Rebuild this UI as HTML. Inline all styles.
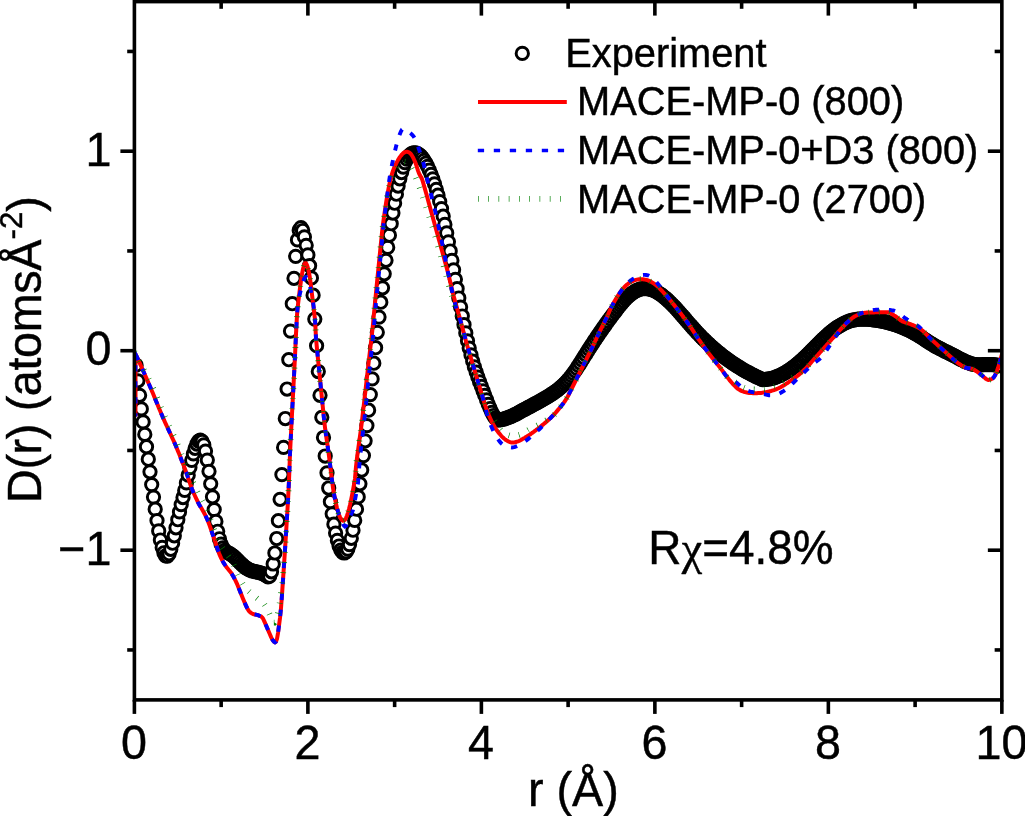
<!DOCTYPE html>
<html lang="en"><head><meta charset="utf-8"><title>D(r) comparison</title>
<style>
html,body{margin:0;padding:0;background:#fff;}
body{width:1025px;height:816px;overflow:hidden;}
svg{display:block;}
text{font-family:"Liberation Sans", sans-serif;fill:#000;stroke:#000;stroke-width:0.45px;}
.t{font-size:46.7px;}
.l{font-size:39.8px;}
.a{font-size:45.9px;}
</style></head><body>
<svg width="1025" height="816" viewBox="0 0 1025 816">
<rect x="0" y="0" width="1025" height="816" fill="#fff"/>
<defs><clipPath id="pc"><rect x="134.40" y="1.60" width="867.45" height="698.30"/></clipPath></defs>
<g clip-path="url(#pc)">
<g fill="#fff" stroke="#000" stroke-width="2.95">

<circle cx="136.1" cy="365.2" r="6.15"/>
<circle cx="137.9" cy="380.8" r="6.15"/>
<circle cx="139.6" cy="395.3" r="6.15"/>
<circle cx="141.3" cy="408.9" r="6.15"/>
<circle cx="143.1" cy="421.9" r="6.15"/>
<circle cx="144.8" cy="434.4" r="6.15"/>
<circle cx="146.5" cy="446.7" r="6.15"/>
<circle cx="148.3" cy="459.2" r="6.15"/>
<circle cx="150.0" cy="471.8" r="6.15"/>
<circle cx="151.7" cy="484.6" r="6.15"/>
<circle cx="153.5" cy="497.1" r="6.15"/>
<circle cx="155.2" cy="509.2" r="6.15"/>
<circle cx="157.0" cy="520.6" r="6.15"/>
<circle cx="158.7" cy="530.9" r="6.15"/>
<circle cx="160.4" cy="540.0" r="6.15"/>
<circle cx="162.2" cy="547.4" r="6.15"/>
<circle cx="163.9" cy="552.8" r="6.15"/>
<circle cx="165.6" cy="555.8" r="6.15"/>
<circle cx="167.4" cy="556.1" r="6.15"/>
<circle cx="169.1" cy="553.8" r="6.15"/>
<circle cx="170.8" cy="549.3" r="6.15"/>
<circle cx="172.6" cy="543.2" r="6.15"/>
<circle cx="174.3" cy="535.8" r="6.15"/>
<circle cx="176.0" cy="527.8" r="6.15"/>
<circle cx="177.8" cy="519.7" r="6.15"/>
<circle cx="179.5" cy="511.9" r="6.15"/>
<circle cx="181.2" cy="504.6" r="6.15"/>
<circle cx="183.0" cy="497.5" r="6.15"/>
<circle cx="184.7" cy="490.4" r="6.15"/>
<circle cx="186.4" cy="482.9" r="6.15"/>
<circle cx="188.2" cy="475.2" r="6.15"/>
<circle cx="189.9" cy="467.6" r="6.15"/>
<circle cx="191.7" cy="460.4" r="6.15"/>
<circle cx="193.4" cy="453.9" r="6.15"/>
<circle cx="195.1" cy="448.3" r="6.15"/>
<circle cx="196.9" cy="444.0" r="6.15"/>
<circle cx="198.6" cy="441.2" r="6.15"/>
<circle cx="200.3" cy="440.2" r="6.15"/>
<circle cx="202.1" cy="441.4" r="6.15"/>
<circle cx="203.8" cy="444.9" r="6.15"/>
<circle cx="205.5" cy="451.1" r="6.15"/>
<circle cx="207.3" cy="460.1" r="6.15"/>
<circle cx="209.0" cy="471.3" r="6.15"/>
<circle cx="210.7" cy="483.8" r="6.15"/>
<circle cx="212.5" cy="496.8" r="6.15"/>
<circle cx="214.2" cy="509.6" r="6.15"/>
<circle cx="215.9" cy="521.4" r="6.15"/>
<circle cx="217.7" cy="531.3" r="6.15"/>
<circle cx="219.4" cy="538.8" r="6.15"/>
<circle cx="221.1" cy="544.2" r="6.15"/>
<circle cx="222.9" cy="547.9" r="6.15"/>
<circle cx="224.6" cy="550.3" r="6.15"/>
<circle cx="226.3" cy="551.8" r="6.15"/>
<circle cx="228.1" cy="552.8" r="6.15"/>
<circle cx="229.8" cy="553.7" r="6.15"/>
<circle cx="231.6" cy="554.8" r="6.15"/>
<circle cx="233.3" cy="556.2" r="6.15"/>
<circle cx="235.0" cy="557.7" r="6.15"/>
<circle cx="236.8" cy="559.4" r="6.15"/>
<circle cx="238.5" cy="561.1" r="6.15"/>
<circle cx="240.2" cy="562.8" r="6.15"/>
<circle cx="242.0" cy="564.5" r="6.15"/>
<circle cx="243.7" cy="566.1" r="6.15"/>
<circle cx="245.4" cy="567.5" r="6.15"/>
<circle cx="247.2" cy="568.7" r="6.15"/>
<circle cx="248.9" cy="569.7" r="6.15"/>
<circle cx="250.6" cy="570.4" r="6.15"/>
<circle cx="252.4" cy="571.0" r="6.15"/>
<circle cx="254.1" cy="571.4" r="6.15"/>
<circle cx="255.8" cy="571.8" r="6.15"/>
<circle cx="257.6" cy="572.1" r="6.15"/>
<circle cx="259.3" cy="572.5" r="6.15"/>
<circle cx="261.0" cy="573.0" r="6.15"/>
<circle cx="262.8" cy="573.6" r="6.15"/>
<circle cx="264.5" cy="574.5" r="6.15"/>
<circle cx="266.3" cy="575.5" r="6.15"/>
<circle cx="268.0" cy="576.9" r="6.15"/>
<circle cx="269.7" cy="576.2" r="6.15"/>
<circle cx="271.5" cy="571.8" r="6.15"/>
<circle cx="273.2" cy="564.0" r="6.15"/>
<circle cx="274.9" cy="553.0" r="6.15"/>
<circle cx="276.7" cy="538.5" r="6.15"/>
<circle cx="278.4" cy="520.7" r="6.15"/>
<circle cx="280.1" cy="499.3" r="6.15"/>
<circle cx="281.9" cy="474.6" r="6.15"/>
<circle cx="283.6" cy="447.4" r="6.15"/>
<circle cx="285.3" cy="418.5" r="6.15"/>
<circle cx="287.1" cy="389.0" r="6.15"/>
<circle cx="288.8" cy="359.7" r="6.15"/>
<circle cx="290.5" cy="331.1" r="6.15"/>
<circle cx="292.3" cy="303.7" r="6.15"/>
<circle cx="294.0" cy="278.3" r="6.15"/>
<circle cx="295.7" cy="256.4" r="6.15"/>
<circle cx="297.5" cy="239.9" r="6.15"/>
<circle cx="299.2" cy="230.2" r="6.15"/>
<circle cx="301.0" cy="227.6" r="6.15"/>
<circle cx="302.7" cy="230.5" r="6.15"/>
<circle cx="304.4" cy="236.9" r="6.15"/>
<circle cx="306.2" cy="245.3" r="6.15"/>
<circle cx="307.9" cy="254.9" r="6.15"/>
<circle cx="309.6" cy="265.7" r="6.15"/>
<circle cx="311.4" cy="277.9" r="6.15"/>
<circle cx="313.1" cy="295.2" r="6.15"/>
<circle cx="314.8" cy="319.1" r="6.15"/>
<circle cx="316.6" cy="345.7" r="6.15"/>
<circle cx="318.3" cy="371.5" r="6.15"/>
<circle cx="320.0" cy="395.3" r="6.15"/>
<circle cx="321.8" cy="417.3" r="6.15"/>
<circle cx="323.5" cy="437.5" r="6.15"/>
<circle cx="325.2" cy="456.0" r="6.15"/>
<circle cx="327.0" cy="472.8" r="6.15"/>
<circle cx="328.7" cy="488.0" r="6.15"/>
<circle cx="330.4" cy="501.7" r="6.15"/>
<circle cx="332.2" cy="513.8" r="6.15"/>
<circle cx="333.9" cy="524.2" r="6.15"/>
<circle cx="335.6" cy="533.1" r="6.15"/>
<circle cx="337.4" cy="540.4" r="6.15"/>
<circle cx="339.1" cy="546.0" r="6.15"/>
<circle cx="340.9" cy="550.0" r="6.15"/>
<circle cx="342.6" cy="552.3" r="6.15"/>
<circle cx="344.3" cy="553.0" r="6.15"/>
<circle cx="346.1" cy="551.9" r="6.15"/>
<circle cx="347.8" cy="549.1" r="6.15"/>
<circle cx="349.5" cy="544.6" r="6.15"/>
<circle cx="351.3" cy="538.3" r="6.15"/>
<circle cx="353.0" cy="530.2" r="6.15"/>
<circle cx="354.7" cy="520.4" r="6.15"/>
<circle cx="356.5" cy="509.2" r="6.15"/>
<circle cx="358.2" cy="496.9" r="6.15"/>
<circle cx="359.9" cy="483.8" r="6.15"/>
<circle cx="361.7" cy="470.0" r="6.15"/>
<circle cx="363.4" cy="455.6" r="6.15"/>
<circle cx="365.1" cy="440.8" r="6.15"/>
<circle cx="366.9" cy="425.6" r="6.15"/>
<circle cx="368.6" cy="410.2" r="6.15"/>
<circle cx="370.3" cy="394.6" r="6.15"/>
<circle cx="372.1" cy="378.9" r="6.15"/>
<circle cx="373.8" cy="363.2" r="6.15"/>
<circle cx="375.6" cy="347.7" r="6.15"/>
<circle cx="377.3" cy="332.3" r="6.15"/>
<circle cx="379.0" cy="317.1" r="6.15"/>
<circle cx="380.8" cy="302.2" r="6.15"/>
<circle cx="382.5" cy="287.8" r="6.15"/>
<circle cx="384.2" cy="273.8" r="6.15"/>
<circle cx="386.0" cy="260.3" r="6.15"/>
<circle cx="387.7" cy="247.4" r="6.15"/>
<circle cx="389.4" cy="235.2" r="6.15"/>
<circle cx="391.2" cy="223.7" r="6.15"/>
<circle cx="392.9" cy="213.0" r="6.15"/>
<circle cx="394.6" cy="203.2" r="6.15"/>
<circle cx="396.4" cy="194.2" r="6.15"/>
<circle cx="398.1" cy="186.0" r="6.15"/>
<circle cx="399.8" cy="178.8" r="6.15"/>
<circle cx="401.6" cy="172.5" r="6.15"/>
<circle cx="403.3" cy="167.1" r="6.15"/>
<circle cx="405.0" cy="162.6" r="6.15"/>
<circle cx="406.8" cy="159.1" r="6.15"/>
<circle cx="408.5" cy="156.5" r="6.15"/>
<circle cx="410.2" cy="154.6" r="6.15"/>
<circle cx="412.0" cy="153.4" r="6.15"/>
<circle cx="413.7" cy="152.9" r="6.15"/>
<circle cx="415.5" cy="152.9" r="6.15"/>
<circle cx="417.2" cy="153.4" r="6.15"/>
<circle cx="418.9" cy="154.5" r="6.15"/>
<circle cx="420.7" cy="155.9" r="6.15"/>
<circle cx="422.4" cy="157.9" r="6.15"/>
<circle cx="424.1" cy="160.3" r="6.15"/>
<circle cx="425.9" cy="163.1" r="6.15"/>
<circle cx="427.6" cy="166.4" r="6.15"/>
<circle cx="429.3" cy="170.1" r="6.15"/>
<circle cx="431.1" cy="174.3" r="6.15"/>
<circle cx="432.8" cy="178.9" r="6.15"/>
<circle cx="434.5" cy="183.8" r="6.15"/>
<circle cx="436.3" cy="189.3" r="6.15"/>
<circle cx="438.0" cy="195.2" r="6.15"/>
<circle cx="439.7" cy="201.6" r="6.15"/>
<circle cx="441.5" cy="208.6" r="6.15"/>
<circle cx="443.2" cy="216.2" r="6.15"/>
<circle cx="444.9" cy="224.4" r="6.15"/>
<circle cx="446.7" cy="232.9" r="6.15"/>
<circle cx="448.4" cy="241.8" r="6.15"/>
<circle cx="450.2" cy="251.0" r="6.15"/>
<circle cx="451.9" cy="260.4" r="6.15"/>
<circle cx="453.6" cy="269.8" r="6.15"/>
<circle cx="455.4" cy="279.3" r="6.15"/>
<circle cx="457.1" cy="288.7" r="6.15"/>
<circle cx="458.8" cy="298.0" r="6.15"/>
<circle cx="460.6" cy="307.1" r="6.15"/>
<circle cx="462.3" cy="316.0" r="6.15"/>
<circle cx="464.0" cy="324.7" r="6.15"/>
<circle cx="465.8" cy="332.9" r="6.15"/>
<circle cx="467.5" cy="340.8" r="6.15"/>
<circle cx="469.2" cy="348.1" r="6.15"/>
<circle cx="471.0" cy="354.9" r="6.15"/>
<circle cx="472.7" cy="361.2" r="6.15"/>
<circle cx="474.4" cy="366.9" r="6.15"/>
<circle cx="476.2" cy="372.2" r="6.15"/>
<circle cx="477.9" cy="377.2" r="6.15"/>
<circle cx="479.6" cy="381.9" r="6.15"/>
<circle cx="481.4" cy="386.4" r="6.15"/>
<circle cx="483.1" cy="390.9" r="6.15"/>
<circle cx="484.8" cy="395.4" r="6.15"/>
<circle cx="486.6" cy="399.9" r="6.15"/>
<circle cx="488.3" cy="404.3" r="6.15"/>
<circle cx="490.1" cy="408.5" r="6.15"/>
<circle cx="491.8" cy="412.3" r="6.15"/>
<circle cx="493.5" cy="415.5" r="6.15"/>
<circle cx="495.3" cy="418.0" r="6.15"/>
<circle cx="497.0" cy="419.5" r="6.15"/>
<circle cx="498.7" cy="420.0" r="6.15"/>
<circle cx="500.5" cy="419.7" r="6.15"/>
<circle cx="502.2" cy="419.4" r="6.15"/>
<circle cx="503.9" cy="419.0" r="6.15"/>
<circle cx="505.7" cy="418.4" r="6.15"/>
<circle cx="507.4" cy="417.9" r="6.15"/>
<circle cx="509.1" cy="417.2" r="6.15"/>
<circle cx="510.9" cy="416.5" r="6.15"/>
<circle cx="512.6" cy="415.7" r="6.15"/>
<circle cx="514.3" cy="414.8" r="6.15"/>
<circle cx="516.1" cy="414.0" r="6.15"/>
<circle cx="517.8" cy="413.1" r="6.15"/>
<circle cx="519.5" cy="412.1" r="6.15"/>
<circle cx="521.3" cy="411.2" r="6.15"/>
<circle cx="523.0" cy="410.2" r="6.15"/>
<circle cx="524.8" cy="409.3" r="6.15"/>
<circle cx="526.5" cy="408.4" r="6.15"/>
<circle cx="528.2" cy="407.4" r="6.15"/>
<circle cx="530.0" cy="406.5" r="6.15"/>
<circle cx="531.7" cy="405.6" r="6.15"/>
<circle cx="533.4" cy="404.7" r="6.15"/>
<circle cx="535.2" cy="403.7" r="6.15"/>
<circle cx="536.9" cy="402.8" r="6.15"/>
<circle cx="538.6" cy="401.8" r="6.15"/>
<circle cx="540.4" cy="400.9" r="6.15"/>
<circle cx="542.1" cy="399.9" r="6.15"/>
<circle cx="543.8" cy="398.9" r="6.15"/>
<circle cx="545.6" cy="397.9" r="6.15"/>
<circle cx="547.3" cy="396.8" r="6.15"/>
<circle cx="549.0" cy="395.8" r="6.15"/>
<circle cx="550.8" cy="394.7" r="6.15"/>
<circle cx="552.5" cy="393.5" r="6.15"/>
<circle cx="554.2" cy="392.3" r="6.15"/>
<circle cx="556.0" cy="391.1" r="6.15"/>
<circle cx="557.7" cy="389.8" r="6.15"/>
<circle cx="559.5" cy="388.4" r="6.15"/>
<circle cx="561.2" cy="386.9" r="6.15"/>
<circle cx="562.9" cy="385.4" r="6.15"/>
<circle cx="564.7" cy="383.7" r="6.15"/>
<circle cx="566.4" cy="381.9" r="6.15"/>
<circle cx="568.1" cy="380.0" r="6.15"/>
<circle cx="569.9" cy="377.9" r="6.15"/>
<circle cx="571.6" cy="375.7" r="6.15"/>
<circle cx="573.3" cy="373.4" r="6.15"/>
<circle cx="575.1" cy="370.9" r="6.15"/>
<circle cx="576.8" cy="368.4" r="6.15"/>
<circle cx="578.5" cy="365.7" r="6.15"/>
<circle cx="580.3" cy="363.0" r="6.15"/>
<circle cx="582.0" cy="360.2" r="6.15"/>
<circle cx="583.7" cy="357.5" r="6.15"/>
<circle cx="585.5" cy="354.7" r="6.15"/>
<circle cx="587.2" cy="351.9" r="6.15"/>
<circle cx="588.9" cy="349.2" r="6.15"/>
<circle cx="590.7" cy="346.5" r="6.15"/>
<circle cx="592.4" cy="343.8" r="6.15"/>
<circle cx="594.1" cy="341.2" r="6.15"/>
<circle cx="595.9" cy="338.6" r="6.15"/>
<circle cx="597.6" cy="336.0" r="6.15"/>
<circle cx="599.4" cy="333.4" r="6.15"/>
<circle cx="601.1" cy="330.9" r="6.15"/>
<circle cx="602.8" cy="328.4" r="6.15"/>
<circle cx="604.6" cy="326.0" r="6.15"/>
<circle cx="606.3" cy="323.5" r="6.15"/>
<circle cx="608.0" cy="321.1" r="6.15"/>
<circle cx="609.8" cy="318.7" r="6.15"/>
<circle cx="611.5" cy="316.4" r="6.15"/>
<circle cx="613.2" cy="314.1" r="6.15"/>
<circle cx="615.0" cy="311.8" r="6.15"/>
<circle cx="616.7" cy="309.5" r="6.15"/>
<circle cx="618.4" cy="307.3" r="6.15"/>
<circle cx="620.2" cy="305.1" r="6.15"/>
<circle cx="621.9" cy="303.1" r="6.15"/>
<circle cx="623.6" cy="301.1" r="6.15"/>
<circle cx="625.4" cy="299.2" r="6.15"/>
<circle cx="627.1" cy="297.4" r="6.15"/>
<circle cx="628.8" cy="295.8" r="6.15"/>
<circle cx="630.6" cy="294.3" r="6.15"/>
<circle cx="632.3" cy="293.0" r="6.15"/>
<circle cx="634.1" cy="291.8" r="6.15"/>
<circle cx="635.8" cy="290.8" r="6.15"/>
<circle cx="637.5" cy="290.0" r="6.15"/>
<circle cx="639.3" cy="289.4" r="6.15"/>
<circle cx="641.0" cy="288.9" r="6.15"/>
<circle cx="642.7" cy="288.6" r="6.15"/>
<circle cx="644.5" cy="288.5" r="6.15"/>
<circle cx="646.2" cy="288.5" r="6.15"/>
<circle cx="647.9" cy="288.7" r="6.15"/>
<circle cx="649.7" cy="289.1" r="6.15"/>
<circle cx="651.4" cy="289.6" r="6.15"/>
<circle cx="653.1" cy="290.2" r="6.15"/>
<circle cx="654.9" cy="290.9" r="6.15"/>
<circle cx="656.6" cy="291.8" r="6.15"/>
<circle cx="658.3" cy="292.8" r="6.15"/>
<circle cx="660.1" cy="294.0" r="6.15"/>
<circle cx="661.8" cy="295.2" r="6.15"/>
<circle cx="663.5" cy="296.6" r="6.15"/>
<circle cx="665.3" cy="298.0" r="6.15"/>
<circle cx="667.0" cy="299.5" r="6.15"/>
<circle cx="668.7" cy="301.1" r="6.15"/>
<circle cx="670.5" cy="302.8" r="6.15"/>
<circle cx="672.2" cy="304.6" r="6.15"/>
<circle cx="674.0" cy="306.4" r="6.15"/>
<circle cx="675.7" cy="308.2" r="6.15"/>
<circle cx="677.4" cy="310.2" r="6.15"/>
<circle cx="679.2" cy="312.1" r="6.15"/>
<circle cx="680.9" cy="314.1" r="6.15"/>
<circle cx="682.6" cy="316.0" r="6.15"/>
<circle cx="684.4" cy="318.0" r="6.15"/>
<circle cx="686.1" cy="320.1" r="6.15"/>
<circle cx="687.8" cy="322.1" r="6.15"/>
<circle cx="689.6" cy="324.1" r="6.15"/>
<circle cx="691.3" cy="326.0" r="6.15"/>
<circle cx="693.0" cy="328.0" r="6.15"/>
<circle cx="694.8" cy="329.9" r="6.15"/>
<circle cx="696.5" cy="331.8" r="6.15"/>
<circle cx="698.2" cy="333.7" r="6.15"/>
<circle cx="700.0" cy="335.5" r="6.15"/>
<circle cx="701.7" cy="337.3" r="6.15"/>
<circle cx="703.4" cy="339.0" r="6.15"/>
<circle cx="705.2" cy="340.7" r="6.15"/>
<circle cx="706.9" cy="342.4" r="6.15"/>
<circle cx="708.7" cy="344.0" r="6.15"/>
<circle cx="710.4" cy="345.6" r="6.15"/>
<circle cx="712.1" cy="347.1" r="6.15"/>
<circle cx="713.9" cy="348.7" r="6.15"/>
<circle cx="715.6" cy="350.1" r="6.15"/>
<circle cx="717.3" cy="351.6" r="6.15"/>
<circle cx="719.1" cy="353.0" r="6.15"/>
<circle cx="720.8" cy="354.4" r="6.15"/>
<circle cx="722.5" cy="355.8" r="6.15"/>
<circle cx="724.3" cy="357.1" r="6.15"/>
<circle cx="726.0" cy="358.4" r="6.15"/>
<circle cx="727.7" cy="359.7" r="6.15"/>
<circle cx="729.5" cy="360.9" r="6.15"/>
<circle cx="731.2" cy="362.1" r="6.15"/>
<circle cx="732.9" cy="363.3" r="6.15"/>
<circle cx="734.7" cy="364.4" r="6.15"/>
<circle cx="736.4" cy="365.6" r="6.15"/>
<circle cx="738.1" cy="366.7" r="6.15"/>
<circle cx="739.9" cy="367.7" r="6.15"/>
<circle cx="741.6" cy="368.8" r="6.15"/>
<circle cx="743.3" cy="369.8" r="6.15"/>
<circle cx="745.1" cy="370.8" r="6.15"/>
<circle cx="746.8" cy="371.8" r="6.15"/>
<circle cx="748.6" cy="372.7" r="6.15"/>
<circle cx="750.3" cy="373.6" r="6.15"/>
<circle cx="752.0" cy="374.5" r="6.15"/>
<circle cx="753.8" cy="375.4" r="6.15"/>
<circle cx="755.5" cy="376.3" r="6.15"/>
<circle cx="757.2" cy="377.1" r="6.15"/>
<circle cx="759.0" cy="377.9" r="6.15"/>
<circle cx="760.7" cy="378.7" r="6.15"/>
<circle cx="762.4" cy="379.5" r="6.15"/>
<circle cx="764.2" cy="379.5" r="6.15"/>
<circle cx="765.9" cy="379.4" r="6.15"/>
<circle cx="767.6" cy="379.2" r="6.15"/>
<circle cx="769.4" cy="378.9" r="6.15"/>
<circle cx="771.1" cy="378.5" r="6.15"/>
<circle cx="772.8" cy="378.1" r="6.15"/>
<circle cx="774.6" cy="377.5" r="6.15"/>
<circle cx="776.3" cy="376.9" r="6.15"/>
<circle cx="778.0" cy="376.2" r="6.15"/>
<circle cx="779.8" cy="375.5" r="6.15"/>
<circle cx="781.5" cy="374.7" r="6.15"/>
<circle cx="783.3" cy="373.7" r="6.15"/>
<circle cx="785.0" cy="372.8" r="6.15"/>
<circle cx="786.7" cy="371.7" r="6.15"/>
<circle cx="788.5" cy="370.6" r="6.15"/>
<circle cx="790.2" cy="369.5" r="6.15"/>
<circle cx="791.9" cy="368.2" r="6.15"/>
<circle cx="793.7" cy="366.9" r="6.15"/>
<circle cx="795.4" cy="365.6" r="6.15"/>
<circle cx="797.1" cy="364.1" r="6.15"/>
<circle cx="798.9" cy="362.7" r="6.15"/>
<circle cx="800.6" cy="361.1" r="6.15"/>
<circle cx="802.3" cy="359.6" r="6.15"/>
<circle cx="804.1" cy="357.9" r="6.15"/>
<circle cx="805.8" cy="356.3" r="6.15"/>
<circle cx="807.5" cy="354.6" r="6.15"/>
<circle cx="809.3" cy="352.8" r="6.15"/>
<circle cx="811.0" cy="351.1" r="6.15"/>
<circle cx="812.7" cy="349.4" r="6.15"/>
<circle cx="814.5" cy="347.6" r="6.15"/>
<circle cx="816.2" cy="345.8" r="6.15"/>
<circle cx="818.0" cy="344.1" r="6.15"/>
<circle cx="819.7" cy="342.4" r="6.15"/>
<circle cx="821.4" cy="340.7" r="6.15"/>
<circle cx="823.2" cy="339.0" r="6.15"/>
<circle cx="824.9" cy="337.4" r="6.15"/>
<circle cx="826.6" cy="335.8" r="6.15"/>
<circle cx="828.4" cy="334.2" r="6.15"/>
<circle cx="830.1" cy="332.7" r="6.15"/>
<circle cx="831.8" cy="331.3" r="6.15"/>
<circle cx="833.6" cy="329.9" r="6.15"/>
<circle cx="835.3" cy="328.7" r="6.15"/>
<circle cx="837.0" cy="327.4" r="6.15"/>
<circle cx="838.8" cy="326.3" r="6.15"/>
<circle cx="840.5" cy="325.3" r="6.15"/>
<circle cx="842.2" cy="324.3" r="6.15"/>
<circle cx="844.0" cy="323.4" r="6.15"/>
<circle cx="845.7" cy="322.6" r="6.15"/>
<circle cx="847.4" cy="321.9" r="6.15"/>
<circle cx="849.2" cy="321.2" r="6.15"/>
<circle cx="850.9" cy="320.6" r="6.15"/>
<circle cx="852.6" cy="320.2" r="6.15"/>
<circle cx="854.4" cy="319.8" r="6.15"/>
<circle cx="856.1" cy="319.5" r="6.15"/>
<circle cx="857.9" cy="319.2" r="6.15"/>
<circle cx="859.6" cy="319.1" r="6.15"/>
<circle cx="861.3" cy="319.0" r="6.15"/>
<circle cx="863.1" cy="319.0" r="6.15"/>
<circle cx="864.8" cy="319.0" r="6.15"/>
<circle cx="866.5" cy="319.1" r="6.15"/>
<circle cx="868.3" cy="319.2" r="6.15"/>
<circle cx="870.0" cy="319.4" r="6.15"/>
<circle cx="871.7" cy="319.5" r="6.15"/>
<circle cx="873.5" cy="319.8" r="6.15"/>
<circle cx="875.2" cy="320.0" r="6.15"/>
<circle cx="876.9" cy="320.2" r="6.15"/>
<circle cx="878.7" cy="320.5" r="6.15"/>
<circle cx="880.4" cy="320.8" r="6.15"/>
<circle cx="882.1" cy="321.2" r="6.15"/>
<circle cx="883.9" cy="321.5" r="6.15"/>
<circle cx="885.6" cy="321.9" r="6.15"/>
<circle cx="887.3" cy="322.3" r="6.15"/>
<circle cx="889.1" cy="322.8" r="6.15"/>
<circle cx="890.8" cy="323.3" r="6.15"/>
<circle cx="892.6" cy="323.8" r="6.15"/>
<circle cx="894.3" cy="324.3" r="6.15"/>
<circle cx="896.0" cy="324.9" r="6.15"/>
<circle cx="897.8" cy="325.5" r="6.15"/>
<circle cx="899.5" cy="326.1" r="6.15"/>
<circle cx="901.2" cy="326.8" r="6.15"/>
<circle cx="903.0" cy="327.5" r="6.15"/>
<circle cx="904.7" cy="328.3" r="6.15"/>
<circle cx="906.4" cy="329.0" r="6.15"/>
<circle cx="908.2" cy="329.8" r="6.15"/>
<circle cx="909.9" cy="330.7" r="6.15"/>
<circle cx="911.6" cy="331.6" r="6.15"/>
<circle cx="913.4" cy="332.5" r="6.15"/>
<circle cx="915.1" cy="333.5" r="6.15"/>
<circle cx="916.8" cy="334.4" r="6.15"/>
<circle cx="918.6" cy="335.5" r="6.15"/>
<circle cx="920.3" cy="336.6" r="6.15"/>
<circle cx="922.0" cy="337.7" r="6.15"/>
<circle cx="923.8" cy="338.8" r="6.15"/>
<circle cx="925.5" cy="340.0" r="6.15"/>
<circle cx="927.2" cy="341.1" r="6.15"/>
<circle cx="929.0" cy="342.3" r="6.15"/>
<circle cx="930.7" cy="343.4" r="6.15"/>
<circle cx="932.5" cy="344.4" r="6.15"/>
<circle cx="934.2" cy="345.5" r="6.15"/>
<circle cx="935.9" cy="346.5" r="6.15"/>
<circle cx="937.7" cy="347.4" r="6.15"/>
<circle cx="939.4" cy="348.3" r="6.15"/>
<circle cx="941.1" cy="349.2" r="6.15"/>
<circle cx="942.9" cy="350.1" r="6.15"/>
<circle cx="944.6" cy="351.0" r="6.15"/>
<circle cx="946.3" cy="351.8" r="6.15"/>
<circle cx="948.1" cy="352.7" r="6.15"/>
<circle cx="949.8" cy="353.6" r="6.15"/>
<circle cx="951.5" cy="354.4" r="6.15"/>
<circle cx="953.3" cy="355.3" r="6.15"/>
<circle cx="955.0" cy="356.2" r="6.15"/>
<circle cx="956.7" cy="357.2" r="6.15"/>
<circle cx="958.5" cy="358.1" r="6.15"/>
<circle cx="960.2" cy="359.0" r="6.15"/>
<circle cx="961.9" cy="359.9" r="6.15"/>
<circle cx="963.7" cy="360.7" r="6.15"/>
<circle cx="965.4" cy="361.5" r="6.15"/>
<circle cx="967.2" cy="362.3" r="6.15"/>
<circle cx="968.9" cy="362.9" r="6.15"/>
<circle cx="970.6" cy="363.5" r="6.15"/>
<circle cx="972.4" cy="364.0" r="6.15"/>
<circle cx="974.1" cy="364.4" r="6.15"/>
<circle cx="975.8" cy="364.6" r="6.15"/>
<circle cx="977.6" cy="364.8" r="6.15"/>
<circle cx="979.3" cy="364.8" r="6.15"/>
<circle cx="981.0" cy="364.8" r="6.15"/>
<circle cx="982.8" cy="364.7" r="6.15"/>
<circle cx="984.5" cy="364.6" r="6.15"/>
<circle cx="986.2" cy="364.5" r="6.15"/>
<circle cx="988.0" cy="364.5" r="6.15"/>
<circle cx="989.7" cy="364.5" r="6.15"/>
<circle cx="991.4" cy="364.5" r="6.15"/>
<circle cx="993.2" cy="364.7" r="6.15"/>
<circle cx="994.9" cy="364.8" r="6.15"/>
<circle cx="996.6" cy="365.0" r="6.15"/>
<circle cx="998.4" cy="365.3" r="6.15"/>
<circle cx="1000.1" cy="365.5" r="6.15"/>
<circle cx="1001.9" cy="365.9" r="6.15"/>
</g>
<polyline points="135.5,416.5 135.5,355.5 136.0,355.0 137.0,357.1 138.0,359.3 139.0,361.5 140.0,363.7 141.0,366.0 142.0,368.2 143.0,370.4 144.0,372.7 145.0,375.0 146.0,377.3 147.0,379.6 148.0,381.9 149.0,384.2 150.0,386.5 151.0,388.8 152.0,391.2 153.0,393.6 154.0,396.0 155.0,398.5 156.0,400.9 157.0,403.3 158.0,405.7 159.0,408.2 160.0,410.6 161.0,413.0 162.0,415.3 163.0,417.7 164.0,419.9 165.0,422.2 166.0,424.4 167.0,426.5 168.0,428.7 169.0,430.8 170.0,433.0 171.0,435.1 172.0,437.3 173.0,439.5 174.0,441.7 175.0,444.0 176.0,446.3 177.0,448.7 178.0,451.2 179.0,453.6 180.0,456.1 181.0,458.7 182.0,461.2 183.0,463.8 184.0,466.4 185.0,469.0 186.0,471.7 187.0,474.5 188.0,477.5 189.0,480.5 190.0,483.4 191.0,486.3 192.0,489.0 193.0,491.5 194.0,493.8 195.0,496.0 196.0,498.1 197.0,500.2 198.0,502.3 199.0,504.2 200.0,505.9 201.0,507.6 202.0,509.3 203.0,511.0 204.0,512.7 205.0,514.6 206.0,516.6 207.0,518.8 208.0,521.2 209.0,523.9 210.0,526.6 211.0,529.5 212.0,532.4 213.0,535.3 214.0,538.2 215.0,541.2 216.0,544.3 217.0,547.4 218.0,550.4 219.0,553.2 220.0,555.7 221.0,557.9 222.0,559.9 223.0,561.7 224.0,563.4 225.0,565.0 226.0,566.5 227.0,567.8 228.0,569.0 229.0,570.2 230.0,571.4 231.0,572.7 232.0,574.2 233.0,575.9 234.0,577.7 235.0,579.6 236.0,581.6 237.0,583.8 238.0,586.2 239.0,588.7 240.0,591.2 241.0,593.8 242.0,596.3 243.0,598.7 244.0,601.1 245.0,603.4 246.0,605.7 247.0,607.8 248.0,609.6 249.0,611.1 250.0,612.1 251.0,612.9 252.0,613.5 253.0,614.0 254.0,614.3 255.0,614.5 256.0,614.7 257.0,614.9 258.0,615.2 259.0,615.6 260.0,616.0 261.0,616.4 262.0,617.2 263.0,618.5 264.0,620.6 265.0,622.9 266.0,625.2 267.0,627.6 268.0,629.9 269.0,632.2 270.0,634.6 271.0,636.9 272.0,639.0 273.0,640.5 274.0,641.7 275.0,642.4 276.0,641.6 277.0,638.8 278.0,633.1 279.0,625.6 280.0,617.9 281.0,608.1 282.0,594.7 283.0,580.0 284.0,565.2 285.0,550.0 286.0,533.9 287.0,517.5 288.0,500.8 289.0,480.5 290.0,453.7 291.0,433.5 292.0,414.0 293.0,395.0 294.0,376.0 295.0,356.2 296.0,333.9 297.0,315.3 298.0,304.5 299.0,296.3 300.0,288.1 301.0,280.6 302.0,274.2 303.0,268.9 304.0,265.2 305.0,263.3 306.0,263.2 307.0,265.1 308.0,268.4 309.0,272.7 310.0,278.5 311.0,286.3 312.0,294.6 313.0,302.9 314.0,311.0 315.0,319.4 316.0,338.1 317.0,349.0 318.0,359.0 319.0,369.0 320.0,379.0 321.0,389.0 322.0,399.0 323.0,409.0 324.0,418.9 325.0,427.6 326.0,434.9 327.0,441.7 328.0,448.5 329.0,456.0 330.0,464.0 331.0,472.2 332.0,480.3 333.0,487.9 334.0,494.0 335.0,499.1 336.0,503.6 337.0,507.9 338.0,511.6 339.0,514.7 340.0,517.1 341.0,518.9 342.0,520.1 343.0,520.7 344.0,520.6 345.0,519.7 346.0,518.1 347.0,515.7 348.0,512.6 349.0,509.0 350.0,505.0 351.0,500.4 352.0,495.4 353.0,490.1 354.0,484.7 355.0,478.5 356.0,466.7 357.0,458.0 358.0,450.5 359.0,443.3 360.0,436.1 361.0,428.7 362.0,420.8 363.0,412.1 364.0,403.3 365.0,394.5 366.0,385.7 367.0,376.9 368.0,368.1 369.0,359.3 370.0,350.8 371.0,342.3 372.0,333.6 373.0,324.1 374.0,313.3 375.0,302.9 376.0,292.6 377.0,282.5 378.0,272.5 379.0,262.5 380.0,252.5 381.0,242.5 382.0,232.6 383.0,224.0 384.0,216.8 385.0,210.0 386.0,203.4 387.0,197.1 388.0,191.3 389.0,186.2 390.0,181.6 391.0,177.5 392.0,173.9 393.0,170.7 394.0,168.1 395.0,165.9 396.0,163.8 397.0,161.9 398.0,160.1 399.0,158.4 400.0,156.9 401.0,155.6 402.0,154.4 403.0,153.4 404.0,152.6 405.0,152.1 406.0,151.8 407.0,151.8 408.0,152.0 409.0,152.4 410.0,153.1 411.0,154.2 412.0,155.6 413.0,157.4 414.0,159.5 415.0,161.8 416.0,164.3 417.0,167.3 418.0,170.6 419.0,173.4 420.0,175.4 421.0,177.0 422.0,179.0 423.0,182.2 424.0,185.6 425.0,189.1 426.0,192.7 427.0,196.3 428.0,200.0 429.0,203.6 430.0,207.2 431.0,210.9 432.0,214.5 433.0,218.1 434.0,221.7 435.0,225.4 436.0,229.0 437.0,232.6 438.0,236.3 439.0,239.9 440.0,243.5 441.0,247.1 442.0,250.8 443.0,254.4 444.0,258.0 445.0,261.7 446.0,265.3 447.0,268.9 448.0,272.8 449.0,276.8 450.0,281.0 451.0,285.2 452.0,289.4 453.0,293.4 454.0,297.2 455.0,300.9 456.0,304.5 457.0,308.1 458.0,311.7 459.0,315.3 460.0,318.9 461.0,322.5 462.0,326.2 463.0,329.9 464.0,333.7 465.0,337.5 466.0,341.2 467.0,344.8 468.0,348.3 469.0,351.7 470.0,355.0 471.0,358.3 472.0,361.7 473.0,365.0 474.0,368.3 475.0,371.7 476.0,375.0 477.0,378.3 478.0,381.7 479.0,385.0 480.0,388.3 481.0,391.7 482.0,395.0 483.0,398.3 484.0,401.6 485.0,404.8 486.0,407.7 487.0,410.4 488.0,413.0 489.0,415.5 490.0,417.8 491.0,420.0 492.0,422.1 493.0,424.0 494.0,425.8 495.0,427.5 496.0,429.1 497.0,430.5 498.0,431.9 499.0,433.1 500.0,434.3 501.0,435.5 502.0,436.6 503.0,437.6 504.0,438.5 505.0,439.3 506.0,440.0 507.0,440.6 508.0,441.2 509.0,441.7 510.0,442.1 511.0,442.4 512.0,442.5 513.0,442.5 514.0,442.4 515.0,442.3 516.0,442.0 517.0,441.7 518.0,441.4 519.0,441.0 520.0,440.5 521.0,440.0 522.0,439.4 523.0,438.8 524.0,438.2 525.0,437.7 526.0,437.0 527.0,436.4 528.0,435.8 529.0,435.1 530.0,434.5 531.0,433.8 532.0,433.0 533.0,432.3 534.0,431.6 535.0,430.8 536.0,430.1 537.0,429.3 538.0,428.6 539.0,427.8 540.0,427.0 541.0,426.2 542.0,425.4 543.0,424.6 544.0,423.8 545.0,422.9 546.0,422.1 547.0,421.2 548.0,420.3 549.0,419.4 550.0,418.4 551.0,417.5 552.0,416.5 553.0,415.5 554.0,414.5 555.0,413.4 556.0,412.3 557.0,411.1 558.0,409.9 559.0,408.7 560.0,407.5 561.0,406.2 562.0,405.0 563.0,403.7 564.0,402.4 565.0,401.0 566.0,399.4 567.0,397.8 568.0,396.0 569.0,394.0 570.0,392.0 571.0,390.0 572.0,388.0 573.0,386.0 574.0,384.0 575.0,382.0 576.0,380.0 577.0,378.0 578.0,376.0 579.0,374.0 580.0,372.0 581.0,370.0 582.0,368.0 583.0,366.0 584.0,364.0 585.0,362.0 586.0,360.0 587.0,358.0 588.0,356.0 589.0,354.0 590.0,352.0 591.0,350.0 592.0,348.0 593.0,345.9 594.0,343.7 595.0,341.5 596.0,339.4 597.0,337.2 598.0,335.1 599.0,333.0 600.0,330.9 601.0,328.9 602.0,327.0 603.0,325.0 604.0,323.0 605.0,321.0 606.0,319.0 607.0,316.8 608.0,314.5 609.0,312.2 610.0,310.0 611.0,307.9 612.0,305.9 613.0,304.0 614.0,302.2 615.0,300.4 616.0,298.7 617.0,297.0 618.0,295.5 619.0,294.0 620.0,292.5 621.0,291.1 622.0,289.8 623.0,288.6 624.0,287.5 625.0,286.5 626.0,285.5 627.0,284.6 628.0,283.9 629.0,283.1 630.0,282.5 631.0,281.9 632.0,281.4 633.0,280.9 634.0,280.5 635.0,280.2 636.0,279.9 637.0,279.6 638.0,279.4 639.0,279.3 640.0,279.2 641.0,279.2 642.0,279.2 643.0,279.3 644.0,279.4 645.0,279.6 646.0,279.8 647.0,280.0 648.0,280.4 649.0,280.8 650.0,281.2 651.0,281.8 652.0,282.4 653.0,283.0 654.0,283.6 655.0,284.3 656.0,285.1 657.0,285.9 658.0,286.8 659.0,287.7 660.0,288.8 661.0,289.8 662.0,290.9 663.0,292.0 664.0,293.1 665.0,294.2 666.0,295.3 667.0,296.4 668.0,297.6 669.0,298.8 670.0,300.0 671.0,301.2 672.0,302.4 673.0,303.7 674.0,304.9 675.0,306.1 676.0,307.4 677.0,308.6 678.0,309.9 679.0,311.2 680.0,312.5 681.0,313.8 682.0,315.1 683.0,316.5 684.0,317.9 685.0,319.2 686.0,320.6 687.0,322.0 688.0,323.4 689.0,324.8 690.0,326.2 691.0,327.7 692.0,329.2 693.0,330.7 694.0,332.2 695.0,333.8 696.0,335.3 697.0,336.8 698.0,338.3 699.0,339.8 700.0,341.2 701.0,342.7 702.0,344.1 703.0,345.5 704.0,346.9 705.0,348.3 706.0,349.7 707.0,351.0 708.0,352.4 709.0,353.7 710.0,355.0 711.0,356.3 712.0,357.6 713.0,358.8 714.0,360.0 715.0,361.3 716.0,362.5 717.0,363.7 718.0,365.0 719.0,366.2 720.0,367.5 721.0,368.8 722.0,370.1 723.0,371.5 724.0,372.8 725.0,374.2 726.0,375.5 727.0,376.8 728.0,378.1 729.0,379.4 730.0,380.7 731.0,381.8 732.0,383.0 733.0,384.1 734.0,385.2 735.0,386.2 736.0,387.2 737.0,388.1 738.0,388.9 739.0,389.5 740.0,390.1 741.0,390.6 742.0,391.1 743.0,391.4 744.0,391.8 745.0,392.1 746.0,392.3 747.0,392.6 748.0,392.8 749.0,392.9 750.0,393.0 751.0,393.1 752.0,393.1 753.0,393.2 754.0,393.2 755.0,393.2 756.0,393.2 757.0,393.2 758.0,393.1 759.0,393.1 760.0,393.0 761.0,392.9 762.0,392.8 763.0,392.6 764.0,392.5 765.0,392.3 766.0,392.1 767.0,391.9 768.0,391.7 769.0,391.5 770.0,391.2 771.0,391.0 772.0,390.7 773.0,390.4 774.0,390.1 775.0,389.7 776.0,389.3 777.0,388.9 778.0,388.5 779.0,388.0 780.0,387.5 781.0,387.0 782.0,386.4 783.0,385.8 784.0,385.2 785.0,384.6 786.0,383.9 787.0,383.3 788.0,382.6 789.0,381.9 790.0,381.2 791.0,380.6 792.0,379.9 793.0,379.2 794.0,378.5 795.0,377.7 796.0,377.0 797.0,376.2 798.0,375.4 799.0,374.6 800.0,373.8 801.0,372.9 802.0,371.9 803.0,371.0 804.0,370.1 805.0,369.1 806.0,368.1 807.0,367.0 808.0,365.9 809.0,364.9 810.0,363.8 811.0,362.6 812.0,361.5 813.0,360.4 814.0,359.2 815.0,358.1 816.0,357.0 817.0,355.9 818.0,354.8 819.0,353.6 820.0,352.5 821.0,351.4 822.0,350.2 823.0,349.1 824.0,348.0 825.0,346.9 826.0,345.8 827.0,344.6 828.0,343.5 829.0,342.4 830.0,341.2 831.0,340.1 832.0,339.0 833.0,337.9 834.0,336.8 835.0,335.6 836.0,334.5 837.0,333.4 838.0,332.2 839.0,331.1 840.0,330.0 841.0,328.9 842.0,327.8 843.0,326.8 844.0,325.8 845.0,324.8 846.0,323.8 847.0,322.8 848.0,321.9 849.0,320.9 850.0,320.0 851.0,319.1 852.0,318.3 853.0,317.5 854.0,316.8 855.0,316.2 856.0,315.7 857.0,315.2 858.0,314.7 859.0,314.3 860.0,313.9 861.0,313.6 862.0,313.3 863.0,313.1 864.0,312.9 865.0,312.8 866.0,312.7 867.0,312.6 868.0,312.6 869.0,312.5 870.0,312.5 871.0,312.5 872.0,312.4 873.0,312.4 874.0,312.4 875.0,312.3 876.0,312.3 877.0,312.3 878.0,312.3 879.0,312.2 880.0,312.2 881.0,312.2 882.0,312.2 883.0,312.2 884.0,312.2 885.0,312.2 886.0,312.2 887.0,312.2 888.0,312.3 889.0,312.5 890.0,312.9 891.0,313.5 892.0,314.1 893.0,314.7 894.0,315.4 895.0,316.0 896.0,316.7 897.0,317.4 898.0,318.2 899.0,319.0 900.0,319.8 901.0,320.5 902.0,321.1 903.0,321.6 904.0,322.0 905.0,322.4 906.0,322.7 907.0,323.0 908.0,323.3 909.0,323.6 910.0,324.0 911.0,324.4 912.0,324.8 913.0,325.2 914.0,325.6 915.0,326.0 916.0,326.5 917.0,326.9 918.0,327.5 919.0,328.0 920.0,328.7 921.0,329.4 922.0,330.2 923.0,331.1 924.0,332.0 925.0,333.0 926.0,334.0 927.0,335.0 928.0,336.1 929.0,337.1 930.0,338.1 931.0,339.1 932.0,340.0 933.0,340.9 934.0,341.8 935.0,342.7 936.0,343.6 937.0,344.5 938.0,345.4 939.0,346.3 940.0,347.2 941.0,348.1 942.0,349.0 943.0,349.9 944.0,350.8 945.0,351.7 946.0,352.6 947.0,353.5 948.0,354.4 949.0,355.3 950.0,356.2 951.0,357.1 952.0,358.0 953.0,359.0 954.0,359.9 955.0,360.7 956.0,361.5 957.0,362.3 958.0,363.1 959.0,363.8 960.0,364.4 961.0,365.1 962.0,365.7 963.0,366.3 964.0,366.9 965.0,367.4 966.0,367.8 967.0,368.0 968.0,368.2 969.0,368.3 970.0,368.4 971.0,368.6 972.0,368.8 973.0,369.2 974.0,369.7 975.0,370.3 976.0,371.0 977.0,371.7 978.0,372.4 979.0,373.1 980.0,373.8 981.0,374.6 982.0,375.4 983.0,376.3 984.0,377.2 985.0,378.0 986.0,378.9 987.0,379.5 988.0,379.9 989.0,379.9 990.0,379.6 991.0,379.3 992.0,378.8 993.0,378.1 994.0,377.0 995.0,375.4 996.0,373.4 997.0,370.9 998.0,368.0 999.0,364.8 1000.0,361.4 1001.0,357.8 1002.0,354.0" fill="none" stroke="#ff0000" stroke-width="4.0" stroke-linejoin="round"/>
<polyline points="135.5,416.5 135.5,355.5 136.0,355.0 137.0,357.1 138.0,359.3 139.0,361.5 140.0,363.7 141.0,366.0 142.0,368.2 143.0,370.4 144.0,372.7 145.0,375.0 146.0,377.3 147.0,379.6 148.0,381.9 149.0,384.2 150.0,386.5 151.0,388.8 152.0,391.2 153.0,393.6 154.0,396.0 155.0,398.5 156.0,400.9 157.0,403.3 158.0,405.7 159.0,408.2 160.0,410.6 161.0,413.0 162.0,415.3 163.0,417.7 164.0,419.9 165.0,422.2 166.0,424.4 167.0,426.5 168.0,428.7 169.0,430.8 170.0,433.0 171.0,435.1 172.0,437.3 173.0,439.5 174.0,441.7 175.0,444.0 176.0,446.3 177.0,448.7 178.0,451.2 179.0,453.6 180.0,456.1 181.0,458.7 182.0,461.2 183.0,463.8 184.0,466.4 185.0,469.0 186.0,471.7 187.0,474.5 188.0,477.5 189.0,480.5 190.0,483.4 191.0,486.3 192.0,489.0 193.0,491.5 194.0,493.8 195.0,496.0 196.0,498.1 197.0,500.2 198.0,502.3 199.0,504.2 200.0,505.9 201.0,507.6 202.0,509.3 203.0,511.0 204.0,512.7 205.0,514.6 206.0,516.6 207.0,518.8 208.0,521.2 209.0,523.9 210.0,526.6 211.0,529.5 212.0,532.4 213.0,535.3 214.0,538.2 215.0,541.2 216.0,544.3 217.0,547.4 218.0,550.4 219.0,553.2 220.0,555.7 221.0,557.9 222.0,559.9 223.0,561.7 224.0,563.4 225.0,565.0 226.0,566.5 227.0,567.8 228.0,569.0 229.0,570.2 230.0,571.4 231.0,572.7 232.0,574.2 233.0,575.9 234.0,577.7 235.0,579.6 236.0,581.6 237.0,583.8 238.0,586.2 239.0,588.7 240.0,591.2 241.0,593.8 242.0,596.3 243.0,598.7 244.0,601.1 245.0,603.4 246.0,605.7 247.0,607.8 248.0,609.6 249.0,611.1 250.0,612.1 251.0,612.9 252.0,613.5 253.0,614.0 254.0,614.3 255.0,614.5 256.0,614.7 257.0,614.9 258.0,615.2 259.0,615.6 260.0,616.0 261.0,616.4 262.0,617.2 263.0,618.5 264.0,620.6 265.0,622.9 266.0,625.2 267.0,627.6 268.0,629.9 269.0,632.2 270.0,634.6 271.0,636.9 272.0,639.0 273.0,640.5 274.0,641.7 275.0,642.4 276.0,641.6 277.0,638.8 278.0,633.1 279.0,625.6 280.0,617.9 281.0,608.1 282.0,594.7 283.0,580.0 284.0,565.2 285.0,550.0 286.0,533.9 287.0,517.5 288.0,500.8 289.0,480.5 290.0,453.7 291.0,433.5 292.0,414.0 293.0,395.0 294.0,376.0 295.0,356.4 296.0,334.6 297.0,314.9 298.0,303.0 299.0,297.5 300.0,293.3 301.0,289.3 302.0,285.7 303.0,282.4 304.0,279.3 305.0,277.3 306.0,277.0 307.0,278.0 308.0,280.1 309.0,283.0 310.0,286.6 311.0,291.1 312.0,296.2 313.0,301.7 314.0,309.4 315.0,319.6 316.0,338.2 317.0,349.0 318.0,359.0 319.0,369.0 320.0,379.0 321.0,389.0 322.0,399.0 323.0,409.0 324.0,418.9 325.0,427.6 326.0,434.9 327.0,441.7 328.0,448.5 329.0,456.0 330.0,464.0 331.0,472.2 332.0,480.3 333.0,487.9 334.0,494.1 335.0,499.1 336.0,503.6 337.0,507.7 338.0,511.5 339.0,514.7 340.0,517.4 341.0,519.9 342.0,522.1 343.0,524.1 344.0,525.6 345.0,526.5 346.0,525.9 347.0,523.8 348.0,521.4 349.0,519.0 350.0,516.8 351.0,514.7 352.0,512.5 353.0,509.9 354.0,505.5 355.0,500.0 356.0,494.6 357.0,489.1 358.0,482.9 359.0,470.1 360.0,457.7 361.0,448.8 362.0,440.0 363.0,431.4 364.0,422.7 365.0,413.7 366.0,403.9 367.0,393.9 368.0,384.3 369.0,374.8 370.0,365.3 371.0,355.8 372.0,346.3 373.0,336.7 374.0,326.9 375.0,313.5 376.0,302.5 377.0,292.5 378.0,282.5 379.0,272.5 380.0,262.5 381.0,252.2 382.0,240.7 383.0,230.0 384.0,221.1 385.0,213.0 386.0,205.0 387.0,197.0 388.0,189.1 389.0,181.7 390.0,175.2 391.0,169.7 392.0,164.7 393.0,160.0 394.0,155.4 395.0,150.9 396.0,146.7 397.0,142.8 398.0,139.4 399.0,136.4 400.0,133.7 401.0,131.3 402.0,129.5 403.0,128.8 404.0,128.9 405.0,129.3 406.0,129.8 407.0,130.5 408.0,131.2 409.0,132.0 410.0,132.8 411.0,133.6 412.0,134.6 413.0,135.7 414.0,137.1 415.0,138.8 416.0,141.0 417.0,143.6 418.0,146.4 419.0,149.3 420.0,152.2 421.0,155.2 422.0,158.3 423.0,161.6 424.0,165.3 425.0,169.4 426.0,173.8 427.0,178.3 428.0,182.5 429.0,186.5 430.0,190.5 431.0,194.5 432.0,198.5 433.0,202.4 434.0,206.3 435.0,210.4 436.0,214.7 437.0,219.3 438.0,224.1 439.0,228.8 440.0,233.5 441.0,238.2 442.0,242.8 443.0,247.5 444.0,252.3 445.0,257.4 446.0,262.5 447.0,267.6 448.0,272.5 449.0,277.2 450.0,281.8 451.0,286.3 452.0,290.7 453.0,295.0 454.0,299.3 455.0,303.4 456.0,307.2 457.0,310.9 458.0,313.9 459.0,316.6 460.0,319.3 461.0,322.5 462.0,326.1 463.0,329.8 464.0,333.6 465.0,337.3 466.0,341.1 467.0,344.8 468.0,348.3 469.0,351.7 470.0,355.0 471.0,358.3 472.0,361.7 473.0,365.0 474.0,368.3 475.0,371.7 476.0,375.0 477.0,378.3 478.0,381.7 479.0,385.0 480.0,388.3 481.0,391.7 482.0,395.0 483.0,398.3 484.0,401.8 485.0,405.9 486.0,410.1 487.0,414.0 488.0,417.3 489.0,420.4 490.0,423.2 491.0,425.7 492.0,428.0 493.0,430.2 494.0,432.3 495.0,434.2 496.0,436.0 497.0,437.8 498.0,439.3 499.0,440.7 500.0,442.0 501.0,443.0 502.0,443.9 503.0,444.7 504.0,445.3 505.0,445.9 506.0,446.4 507.0,446.8 508.0,447.0 509.0,447.2 510.0,447.3 511.0,447.4 512.0,447.5 513.0,447.4 514.0,447.2 515.0,446.9 516.0,446.5 517.0,446.1 518.0,445.7 519.0,445.2 520.0,444.6 521.0,444.0 522.0,443.4 523.0,442.7 524.0,442.1 525.0,441.4 526.0,440.7 527.0,439.9 528.0,439.2 529.0,438.3 530.0,437.5 531.0,436.7 532.0,435.8 533.0,434.9 534.0,434.0 535.0,433.2 536.0,432.2 537.0,431.3 538.0,430.4 539.0,429.5 540.0,428.5 541.0,427.5 542.0,426.6 543.0,425.6 544.0,424.6 545.0,423.6 546.0,422.6 547.0,421.6 548.0,420.6 549.0,419.6 550.0,418.5 551.0,417.5 552.0,416.5 553.0,415.4 554.0,414.3 555.0,413.2 556.0,412.1 557.0,411.0 558.0,409.8 559.0,408.6 560.0,407.4 561.0,406.2 562.0,405.0 563.0,403.8 564.0,402.4 565.0,401.0 566.0,399.5 567.0,397.8 568.0,396.0 569.0,394.0 570.0,392.0 571.0,390.0 572.0,388.0 573.0,386.0 574.0,384.0 575.0,382.0 576.0,380.0 577.0,378.0 578.0,376.0 579.0,374.0 580.0,372.0 581.0,370.0 582.0,368.0 583.0,366.0 584.0,364.0 585.0,362.0 586.0,360.0 587.0,358.0 588.0,356.0 589.0,354.0 590.0,352.0 591.0,350.0 592.0,348.0 593.0,345.9 594.0,343.7 595.0,341.5 596.0,339.4 597.0,337.2 598.0,335.1 599.0,333.0 600.0,330.9 601.0,328.9 602.0,327.0 603.0,325.0 604.0,323.0 605.0,321.0 606.0,319.0 607.0,316.8 608.0,314.5 609.0,312.2 610.0,310.0 611.0,307.9 612.0,306.0 613.0,304.1 614.0,302.2 615.0,300.5 616.0,298.8 617.0,297.1 618.0,295.5 619.0,294.0 620.0,292.5 621.0,291.1 622.0,289.7 623.0,288.3 624.0,287.1 625.0,285.9 626.0,284.8 627.0,283.7 628.0,282.7 629.0,281.8 630.0,281.0 631.0,280.2 632.0,279.6 633.0,278.9 634.0,278.4 635.0,277.8 636.0,277.4 637.0,276.9 638.0,276.5 639.0,276.1 640.0,275.8 641.0,275.5 642.0,275.2 643.0,275.0 644.0,274.9 645.0,274.9 646.0,275.0 647.0,275.1 648.0,275.4 649.0,275.8 650.0,276.3 651.0,276.9 652.0,277.6 653.0,278.5 654.0,279.4 655.0,280.5 656.0,281.6 657.0,282.8 658.0,284.0 659.0,285.2 660.0,286.4 661.0,287.7 662.0,289.0 663.0,290.4 664.0,291.7 665.0,293.1 666.0,294.5 667.0,295.9 668.0,297.3 669.0,298.7 670.0,300.0 671.0,301.3 672.0,302.5 673.0,303.8 674.0,305.0 675.0,306.2 676.0,307.5 677.0,308.7 678.0,309.9 679.0,311.2 680.0,312.5 681.0,313.8 682.0,315.1 683.0,316.5 684.0,317.9 685.0,319.2 686.0,320.6 687.0,322.0 688.0,323.4 689.0,324.8 690.0,326.2 691.0,327.7 692.0,329.2 693.0,330.7 694.0,332.2 695.0,333.8 696.0,335.3 697.0,336.8 698.0,338.3 699.0,339.8 700.0,341.2 701.0,342.7 702.0,344.1 703.0,345.5 704.0,346.9 705.0,348.3 706.0,349.7 707.0,351.0 708.0,352.4 709.0,353.7 710.0,355.0 711.0,356.3 712.0,357.6 713.0,358.8 714.0,360.1 715.0,361.3 716.0,362.5 717.0,363.8 718.0,365.0 719.0,366.2 720.0,367.5 721.0,368.8 722.0,370.2 723.0,371.6 724.0,373.0 725.0,374.3 726.0,375.7 727.0,376.9 728.0,378.0 729.0,378.9 730.0,379.6 731.0,380.1 732.0,380.5 733.0,380.9 734.0,381.3 735.0,381.7 736.0,382.3 737.0,383.1 738.0,383.9 739.0,384.8 740.0,385.8 741.0,386.7 742.0,387.5 743.0,388.3 744.0,388.9 745.0,389.4 746.0,390.0 747.0,390.4 748.0,390.8 749.0,391.2 750.0,391.5 751.0,391.8 752.0,392.0 753.0,392.2 754.0,392.4 755.0,392.6 756.0,392.8 757.0,392.9 758.0,393.1 759.0,393.3 760.0,393.5 761.0,393.7 762.0,393.9 763.0,394.1 764.0,394.2 765.0,394.4 766.0,394.6 767.0,394.8 768.0,395.0 769.0,395.2 770.0,395.3 771.0,395.3 772.0,395.3 773.0,395.2 774.0,395.1 775.0,395.0 776.0,394.8 777.0,394.5 778.0,394.1 779.0,393.7 780.0,393.2 781.0,392.6 782.0,392.0 783.0,391.4 784.0,390.8 785.0,390.1 786.0,389.4 787.0,388.7 788.0,387.9 789.0,387.0 790.0,386.0 791.0,385.1 792.0,384.1 793.0,383.1 794.0,382.1 795.0,381.1 796.0,380.1 797.0,379.1 798.0,378.2 799.0,377.2 800.0,376.2 801.0,375.3 802.0,374.4 803.0,373.4 804.0,372.5 805.0,371.5 806.0,370.6 807.0,369.7 808.0,368.7 809.0,367.8 810.0,366.9 811.0,365.9 812.0,365.0 813.0,364.1 814.0,363.3 815.0,362.5 816.0,361.8 817.0,361.0 818.0,360.3 819.0,359.5 820.0,358.6 821.0,357.6 822.0,356.5 823.0,355.3 824.0,354.0 825.0,352.6 826.0,351.1 827.0,349.6 828.0,348.1 829.0,346.6 830.0,345.0 831.0,343.5 832.0,342.0 833.0,340.5 834.0,339.0 835.0,337.6 836.0,336.1 837.0,334.6 838.0,333.1 839.0,331.7 840.0,330.2 841.0,328.8 842.0,327.5 843.0,326.3 844.0,325.3 845.0,324.3 846.0,323.4 847.0,322.5 848.0,321.7 849.0,320.8 850.0,320.0 851.0,319.2 852.0,318.3 853.0,317.6 854.0,316.9 855.0,316.2 856.0,315.7 857.0,315.2 858.0,314.7 859.0,314.3 860.0,313.8 861.0,313.4 862.0,313.0 863.0,312.7 864.0,312.4 865.0,312.0 866.0,311.8 867.0,311.5 868.0,311.3 869.0,311.0 870.0,310.8 871.0,310.6 872.0,310.4 873.0,310.2 874.0,310.0 875.0,309.9 876.0,309.8 877.0,309.7 878.0,309.6 879.0,309.6 880.0,309.5 881.0,309.5 882.0,309.5 883.0,309.5 884.0,309.5 885.0,309.5 886.0,309.6 887.0,309.7 888.0,309.8 889.0,309.9 890.0,310.0 891.0,310.1 892.0,310.3 893.0,310.5 894.0,310.7 895.0,311.0 896.0,311.4 897.0,311.9 898.0,312.5 899.0,313.2 900.0,314.0 901.0,314.8 902.0,315.6 903.0,316.5 904.0,317.3 905.0,318.0 906.0,318.7 907.0,319.4 908.0,320.0 909.0,320.7 910.0,321.3 911.0,322.0 912.0,322.6 913.0,323.1 914.0,323.6 915.0,324.1 916.0,324.7 917.0,325.3 918.0,326.0 919.0,326.8 920.0,327.7 921.0,328.6 922.0,329.6 923.0,330.7 924.0,331.7 925.0,332.8 926.0,333.9 927.0,335.0 928.0,336.0 929.0,337.1 930.0,338.1 931.0,339.1 932.0,340.0 933.0,340.9 934.0,341.8 935.0,342.7 936.0,343.6 937.0,344.5 938.0,345.4 939.0,346.3 940.0,347.2 941.0,348.1 942.0,349.0 943.0,349.9 944.0,350.8 945.0,351.7 946.0,352.6 947.0,353.5 948.0,354.4 949.0,355.3 950.0,356.2 951.0,357.1 952.0,358.1 953.0,359.0 954.0,359.9 955.0,360.7 956.0,361.5 957.0,362.3 958.0,363.1 959.0,363.8 960.0,364.4 961.0,365.1 962.0,365.7 963.0,366.3 964.0,366.9 965.0,367.4 966.0,367.8 967.0,368.0 968.0,368.2 969.0,368.3 970.0,368.4 971.0,368.6 972.0,368.8 973.0,369.2 974.0,369.7 975.0,370.3 976.0,371.0 977.0,371.7 978.0,372.4 979.0,373.1 980.0,373.8 981.0,374.6 982.0,375.4 983.0,376.3 984.0,377.2 985.0,378.0 986.0,378.9 987.0,379.5 988.0,379.9 989.0,379.9 990.0,379.6 991.0,379.3 992.0,378.8 993.0,378.1 994.0,377.0 995.0,375.4 996.0,373.4 997.0,370.9 998.0,368.0 999.0,364.8 1000.0,361.4 1001.0,357.8 1002.0,354.0" fill="none" stroke="#0000ff" stroke-width="3.9" stroke-dasharray="6.3 9.7" stroke-dashoffset="3"/>
<polyline points="134.4,351.8 135.4,353.9 136.4,355.9 137.4,357.9 138.4,359.9 139.4,361.8 140.4,363.6 141.4,365.5 142.4,367.3 143.4,369.2 144.4,371.0 145.4,372.8 146.4,374.7 147.4,376.6 148.4,378.5 149.4,380.4 150.4,382.4 151.4,384.5 152.4,386.6 153.4,388.8 154.4,391.1 155.4,393.5 156.4,395.9 157.4,398.4 158.4,400.9 159.4,403.4 160.4,405.9 161.4,408.4 162.4,410.8 163.4,413.2 164.4,415.5 165.4,417.8 166.4,420.0 167.4,422.2 168.4,424.3 169.4,426.5 170.4,428.6 171.4,430.8 172.4,432.9 173.4,435.1 174.4,437.3 175.4,439.6 176.4,441.9 177.4,444.2 178.4,446.6 179.4,449.1 180.4,451.6 181.4,454.2 182.4,456.8 183.4,459.3 184.4,461.9 185.4,464.4 186.4,466.8 187.4,469.2 188.4,471.6 189.4,473.9 190.4,476.2 191.4,478.5 192.4,480.8 193.4,483.0 194.4,485.2 195.4,487.4 196.4,489.6 197.4,491.8 198.4,493.8 199.4,495.7 200.4,497.5 201.4,499.1 202.4,500.9 203.4,502.7 204.4,504.7 205.4,506.9 206.4,509.3 207.4,511.7 208.4,514.3 209.4,516.8 210.4,519.4 211.4,522.1 212.4,524.8 213.4,527.6 214.4,530.5 215.4,533.3 216.4,536.0 217.4,538.5 218.4,540.8 219.4,542.8 220.4,544.6 221.4,546.3 222.4,547.9 223.4,549.4 224.4,551.0 225.4,552.5 226.4,553.9 227.4,555.2 228.4,556.5 229.4,557.9 230.4,559.3 231.4,560.7 232.4,562.3 233.4,564.1 234.4,566.2 235.4,568.5 236.4,570.9 237.4,573.3 238.4,575.7 239.4,577.9 240.4,579.9 241.4,581.7 242.4,583.3 243.4,584.9 244.4,586.3 245.4,587.7 246.4,588.9 247.4,589.9 248.4,590.8 249.4,591.7 250.4,592.6 251.4,593.5 252.4,594.4 253.4,595.3 254.4,596.1 255.4,597.0 256.4,597.8 257.4,598.6 258.4,599.4 259.4,600.2 260.4,601.0 261.4,601.7 262.4,602.6 263.4,603.4 264.4,604.5 265.4,606.0 266.4,607.8 267.4,609.9 268.4,611.8 269.4,613.8 270.4,616.1 271.4,618.5 272.4,620.8 273.4,622.6 274.4,622.6 275.4,621.1 276.4,618.5 277.4,615.3 278.4,611.2 279.4,605.2 280.4,598.0 281.4,590.2 282.4,581.3 283.4,571.0 284.4,558.6 285.4,543.8 286.4,527.5 287.4,510.9 288.4,493.8 289.4,466.5 290.4,445.5 291.4,425.6 292.4,406.4 293.4,387.4 294.4,368.4 295.4,347.3 296.4,325.6 297.4,310.3 298.4,301.2 299.4,293.0 300.4,285.0 301.4,277.9 302.4,271.9 303.4,267.2 304.4,264.3 305.4,263.0 306.4,263.8 307.4,266.3 308.4,270.0 309.4,274.8 310.4,281.4 311.4,289.6 312.4,298.0 313.4,306.2 314.4,314.3 315.4,326.0 316.4,343.0 317.4,353.0 318.4,363.0 319.4,373.0 320.4,383.0 321.4,393.0 322.4,403.0 323.4,413.0 324.4,422.6 325.4,430.6 326.4,437.7 327.4,444.3 328.4,451.4 329.4,459.1 330.4,467.3 331.4,475.5 332.4,483.4 333.4,490.5 334.4,496.1 335.4,500.9 336.4,505.4 337.4,509.4 338.4,512.9 339.4,515.7 340.4,517.9 341.4,519.4 342.4,520.4 343.4,520.8 344.4,520.4 345.4,519.1 346.4,517.2 347.4,514.5 348.4,511.2 349.4,507.5 350.4,503.2 351.4,498.5 352.4,493.3 353.4,488.0 354.4,482.3 355.4,474.8 356.4,462.8 357.4,454.9 358.4,447.6 359.4,440.4 360.4,433.2 361.4,425.6 362.4,417.4 363.4,408.6 364.4,399.8 365.4,391.0 366.4,382.2 367.4,373.3 368.4,364.6 369.4,355.9 370.4,347.4 371.4,338.8 372.4,329.9 373.4,319.8 374.4,309.0 375.4,298.7 376.4,288.5 377.4,278.5 378.4,268.5 379.4,258.5 380.4,248.5 381.4,238.5 382.4,229.0 383.4,221.1 384.4,214.1 385.4,207.2 386.4,200.3 387.4,193.9 388.4,188.5 389.4,184.5 390.4,181.4 391.4,178.8 392.4,176.5 393.4,174.5 394.4,172.6 395.4,171.0 396.4,169.4 397.4,167.8 398.4,166.2 399.4,164.8 400.4,163.6 401.4,162.7 402.4,162.0 403.4,161.7 404.4,161.6 405.4,161.8 406.4,162.2 407.4,162.7 408.4,163.5 409.4,164.6 410.4,166.0 411.4,167.7 412.4,169.7 413.4,171.8 414.4,174.0 415.4,176.5 416.4,179.0 417.4,181.6 418.4,184.3 419.4,187.0 420.4,189.8 421.4,192.8 422.4,195.9 423.4,199.0 424.4,202.1 425.4,205.1 426.4,208.2 427.4,211.3 428.4,214.4 429.4,217.5 430.4,220.6 431.4,223.7 432.4,226.8 433.4,230.1 434.4,233.5 435.4,236.9 436.4,240.4 437.4,243.9 438.4,247.4 439.4,250.9 440.4,254.5 441.4,258.1 442.4,261.7 443.4,265.3 444.4,269.0 445.4,272.7 446.4,276.4 447.4,280.0 448.4,283.7 449.4,287.3 450.4,290.9 451.4,294.4 452.4,297.9 453.4,301.4 454.4,304.7 455.4,308.1 456.4,311.4 457.4,314.7 458.4,318.0 459.4,321.3 460.4,324.7 461.4,328.2 462.4,331.6 463.4,335.0 464.4,338.3 465.4,341.2 466.4,343.9 467.4,346.6 468.4,349.7 469.4,353.0 470.4,356.3 471.4,359.7 472.4,363.0 473.4,366.3 474.4,369.7 475.4,373.0 476.4,376.3 477.4,379.7 478.4,383.0 479.4,386.3 480.4,389.7 481.4,393.0 482.4,396.3 483.4,399.7 484.4,402.8 485.4,405.3 486.4,407.4 487.4,409.3 488.4,410.9 489.4,412.4 490.4,414.0 491.4,415.7 492.4,417.4 493.4,419.1 494.4,420.8 495.4,422.4 496.4,424.0 497.4,425.5 498.4,426.9 499.4,428.2 500.4,429.3 501.4,430.4 502.4,431.4 503.4,432.2 504.4,433.0 505.4,433.6 506.4,434.2 507.4,434.7 508.4,435.2 509.4,435.5 510.4,435.8 511.4,436.0 512.4,436.1 513.4,436.0 514.4,435.9 515.4,435.7 516.4,435.6 517.4,435.3 518.4,435.0 519.4,434.7 520.4,434.3 521.4,433.8 522.4,433.3 523.4,432.8 524.4,432.2 525.4,431.7 526.4,431.2 527.4,430.7 528.4,430.1 529.4,429.6 530.4,429.1 531.4,428.5 532.4,428.0 533.4,427.5 534.4,426.9 535.4,426.4 536.4,425.8 537.4,425.3 538.4,424.8 539.4,424.2 540.4,423.7 541.4,423.1 542.4,422.5 543.4,422.0 544.4,421.4 545.4,420.8 546.4,420.2 547.4,419.7 548.4,419.1 549.4,418.5 550.4,417.9 551.4,417.2 552.4,416.5 553.4,415.6 554.4,414.6 555.4,413.5 556.4,412.3 557.4,411.0 558.4,409.7 559.4,408.4 560.4,407.0 561.4,405.7 562.4,404.4 563.4,403.1 564.4,401.8 565.4,400.3 566.4,398.8 567.4,397.1 568.4,395.2 569.4,393.2 570.4,391.2 571.4,389.2 572.4,387.2 573.4,385.2 574.4,383.2 575.4,381.2 576.4,379.2 577.4,377.2 578.4,375.2 579.4,373.2 580.4,371.2 581.4,369.2 582.4,367.2 583.4,365.2 584.4,363.2 585.4,361.2 586.4,359.2 587.4,357.2 588.4,355.2 589.4,353.2 590.4,351.2 591.4,349.2 592.4,347.1 593.4,345.0 594.4,342.8 595.4,340.7 596.4,338.5 597.4,336.3 598.4,334.2 599.4,332.1 600.4,330.1 601.4,328.1 602.4,326.2 603.4,324.2 604.4,322.2 605.4,320.2 606.4,318.2 607.4,315.9 608.4,313.6 609.4,311.3 610.4,309.2 611.4,307.1 612.4,305.1 613.4,303.3 614.4,301.4 615.4,299.7 616.4,298.0 617.4,296.4 618.4,294.9 619.4,293.4 620.4,291.9 621.4,290.6 622.4,289.3 623.4,288.2 624.4,287.1 625.4,286.1 626.4,285.2 627.4,284.3 628.4,283.6 629.4,282.9 630.4,282.3 631.4,281.7 632.4,281.2 633.4,280.8 634.4,280.4 635.4,280.0 636.4,279.8 637.4,279.5 638.4,279.4 639.4,279.3 640.4,279.2 641.4,279.2 642.4,279.3 643.4,279.3 644.4,279.5 645.4,279.6 646.4,279.9 647.4,280.2 648.4,280.5 649.4,281.0 650.4,281.5 651.4,282.0 652.4,282.6 653.4,283.2 654.4,283.9 655.4,284.6 656.4,285.4 657.4,286.3 658.4,287.2 659.4,288.1 660.4,289.2 661.4,290.2 662.4,291.3 663.4,292.4 664.4,293.5 665.4,294.6 666.4,295.8 667.4,296.9 668.4,298.1 669.4,299.3 670.4,300.5 671.4,301.7 672.4,302.9 673.4,304.2 674.4,305.4 675.4,306.6 676.4,307.9 677.4,309.1 678.4,310.4 679.4,311.7 680.4,313.0 681.4,314.3 682.4,315.7 683.4,317.0 684.4,318.4 685.4,319.8 686.4,321.2 687.4,322.6 688.4,324.0 689.4,325.4 690.4,326.8 691.4,328.3 692.4,329.8 693.4,331.3 694.4,332.8 695.4,334.4 696.4,335.9 697.4,337.4 698.4,338.9 699.4,340.4 700.4,341.8 701.4,343.3 702.4,344.7 703.4,346.1 704.4,347.5 705.4,348.8 706.4,350.2 707.4,351.6 708.4,352.9 709.4,354.2 710.4,355.5 711.4,356.8 712.4,358.1 713.4,359.3 714.4,360.6 715.4,361.8 716.4,363.0 717.4,364.3 718.4,365.5 719.4,366.7 720.4,368.0 721.4,369.4 722.4,370.8 723.4,372.3 724.4,373.7 725.4,375.1 726.4,376.3 727.4,377.4 728.4,378.3 729.4,379.0 730.4,379.6 731.4,380.1 732.4,380.6 733.4,381.1 734.4,381.6 735.4,382.3 736.4,382.9 737.4,383.6 738.4,384.3 739.4,385.0 740.4,385.7 741.4,386.3 742.4,386.9 743.4,387.5 744.4,387.9 745.4,388.2 746.4,388.5 747.4,388.6 748.4,388.8 749.4,388.9 750.4,389.0 751.4,389.2 752.4,389.3 753.4,389.4 754.4,389.4 755.4,389.5 756.4,389.5 757.4,389.6 758.4,389.6 759.4,389.5 760.4,389.5 761.4,389.4 762.4,389.3 763.4,389.2 764.4,389.1 765.4,388.9 766.4,388.8 767.4,388.6 768.4,388.4 769.4,388.1 770.4,387.9 771.4,387.6 772.4,387.3 773.4,387.0 774.4,386.7 775.4,386.4 776.4,386.0 777.4,385.6 778.4,385.2 779.4,384.8 780.4,384.3 781.4,383.8 782.4,383.4 783.4,382.8 784.4,382.3 785.4,381.7 786.4,381.2 787.4,380.6 788.4,380.0 789.4,379.4 790.4,378.8 791.4,378.1 792.4,377.5 793.4,376.9 794.4,376.3 795.4,375.7 796.4,375.0 797.4,374.4 798.4,373.7 799.4,373.0 800.4,372.3 801.4,371.6 802.4,370.8 803.4,370.1 804.4,369.2 805.4,368.4 806.4,367.4 807.4,366.5 808.4,365.5 809.4,364.4 810.4,363.3 811.4,362.2 812.4,361.1 813.4,359.9 814.4,358.8 815.4,357.7 816.4,356.6 817.4,355.4 818.4,354.3 819.4,353.2 820.4,352.1 821.4,350.9 822.4,349.8 823.4,348.7 824.4,347.6 825.4,346.4 826.4,345.3 827.4,344.2 828.4,343.1 829.4,341.9 830.4,340.8 831.4,339.7 832.4,338.6 833.4,337.4 834.4,336.3 835.4,335.2 836.4,334.1 837.4,332.9 838.4,331.8 839.4,330.7 840.4,329.6 841.4,328.5 842.4,327.4 843.4,326.4 844.4,325.4 845.4,324.4 846.4,323.4 847.4,322.5 848.4,321.5 849.4,320.6 850.4,319.6 851.4,318.8 852.4,318.0 853.4,317.2 854.4,316.6 855.4,316.0 856.4,315.5 857.4,315.0 858.4,314.6 859.4,314.2 860.4,313.8 861.4,313.5 862.4,313.2 863.4,313.0 864.4,312.8 865.4,312.7 866.4,312.7 867.4,312.6 868.4,312.6 869.4,312.5 870.4,312.5 871.4,312.4 872.4,312.4 873.4,312.4 874.4,312.4 875.4,312.3 876.4,312.3 877.4,312.3 878.4,312.3 879.4,312.2 880.4,312.2 881.4,312.2 882.4,312.2 883.4,312.2 884.4,312.2 885.4,312.2 886.4,312.2 887.4,312.3 888.4,312.4 889.4,312.7 890.4,313.1 891.4,313.7 892.4,314.3 893.4,315.0 894.4,315.6 895.4,316.3 896.4,317.0 897.4,317.8 898.4,318.5 899.4,319.3 900.4,320.0 901.4,320.7 902.4,321.3 903.4,321.8 904.4,322.2 905.4,322.5 906.4,322.8 907.4,323.1 908.4,323.4 909.4,323.8 910.4,324.2 911.4,324.6 912.4,324.9 913.4,325.4 914.4,325.8 915.4,326.2 916.4,326.6 917.4,327.1 918.4,327.7 919.4,328.3 920.4,329.0 921.4,329.7 922.4,330.6 923.4,331.5 924.4,332.4 925.4,333.4 926.4,334.4 927.4,335.5 928.4,336.5 929.4,337.5 930.4,338.5 931.4,339.4 932.4,340.3 933.4,341.2 934.4,342.1 935.4,343.0 936.4,343.9 937.4,344.8 938.4,345.7 939.4,346.6 940.4,347.5 941.4,348.4 942.4,349.3 943.4,350.2 944.4,351.1 945.4,352.0 946.4,353.0 947.4,353.9 948.4,354.8 949.4,355.7 950.4,356.6 951.4,357.5 952.4,358.4 953.4,359.3 954.4,360.2 955.4,361.1 956.4,361.9 957.4,362.6 958.4,363.3 959.4,364.0 960.4,364.7 961.4,365.3 962.4,365.9 963.4,366.5 964.4,367.1 965.4,367.6 966.4,367.9 967.4,368.1 968.4,368.2 969.4,368.3 970.4,368.5 971.4,368.6 972.4,368.9 973.4,369.4 974.4,370.0 975.4,370.6 976.4,371.3 977.4,371.9 978.4,372.6 979.4,373.4 980.4,374.1 981.4,374.9 982.4,375.8 983.4,376.6 984.4,377.5 985.4,378.4 986.4,379.2 987.4,379.7 988.4,379.9 989.4,379.8 990.4,379.5 991.4,379.1 992.4,378.6 993.4,377.7 994.4,376.4 995.4,374.7 996.4,372.5 997.4,369.8 998.4,366.7 999.4,363.5 1000.4,360.0 1001.4,356.3" fill="none" stroke="#008000" stroke-width="5.8" stroke-dasharray="0.65 9.6"/>
</g>
<g stroke="#000" stroke-width="3.6" fill="none" stroke-linecap="butt">
<rect x="134.4" y="1.6" width="867.45" height="698.30"/>
<line x1="134.40" y1="699.9" x2="134.40" y2="713.90"/>
<line x1="221.15" y1="699.9" x2="221.15" y2="707.10"/>
<line x1="221.15" y1="1.6" x2="221.15" y2="8.80"/>
<line x1="307.89" y1="699.9" x2="307.89" y2="713.90"/>
<line x1="307.89" y1="1.6" x2="307.89" y2="15.60"/>
<line x1="394.63" y1="699.9" x2="394.63" y2="707.10"/>
<line x1="394.63" y1="1.6" x2="394.63" y2="8.80"/>
<line x1="481.38" y1="699.9" x2="481.38" y2="713.90"/>
<line x1="481.38" y1="1.6" x2="481.38" y2="15.60"/>
<line x1="568.12" y1="699.9" x2="568.12" y2="707.10"/>
<line x1="568.12" y1="1.6" x2="568.12" y2="8.80"/>
<line x1="654.87" y1="699.9" x2="654.87" y2="713.90"/>
<line x1="654.87" y1="1.6" x2="654.87" y2="15.60"/>
<line x1="741.62" y1="699.9" x2="741.62" y2="707.10"/>
<line x1="741.62" y1="1.6" x2="741.62" y2="8.80"/>
<line x1="828.36" y1="699.9" x2="828.36" y2="713.90"/>
<line x1="828.36" y1="1.6" x2="828.36" y2="15.60"/>
<line x1="915.11" y1="699.9" x2="915.11" y2="707.10"/>
<line x1="915.11" y1="1.6" x2="915.11" y2="8.80"/>
<line x1="1001.85" y1="699.9" x2="1001.85" y2="713.90"/>
<line x1="134.4" y1="649.95" x2="127.20" y2="649.95"/>
<line x1="1001.85" y1="649.95" x2="994.65" y2="649.95"/>
<line x1="134.4" y1="550.20" x2="120.40" y2="550.20"/>
<line x1="1001.85" y1="550.20" x2="987.85" y2="550.20"/>
<line x1="134.4" y1="450.45" x2="127.20" y2="450.45"/>
<line x1="1001.85" y1="450.45" x2="994.65" y2="450.45"/>
<line x1="134.4" y1="350.70" x2="120.40" y2="350.70"/>
<line x1="1001.85" y1="350.70" x2="987.85" y2="350.70"/>
<line x1="134.4" y1="250.95" x2="127.20" y2="250.95"/>
<line x1="1001.85" y1="250.95" x2="994.65" y2="250.95"/>
<line x1="134.4" y1="151.20" x2="120.40" y2="151.20"/>
<line x1="1001.85" y1="151.20" x2="987.85" y2="151.20"/>
<line x1="134.4" y1="51.45" x2="127.20" y2="51.45"/>
<line x1="1001.85" y1="51.45" x2="994.65" y2="51.45"/>
</g>
<text class="t" transform="translate(134.00,759.30) scale(1,1.023)" text-anchor="middle">0</text>
<text class="t" transform="translate(307.49,759.30) scale(1,1.023)" text-anchor="middle">2</text>
<text class="t" transform="translate(480.98,759.30) scale(1,1.023)" text-anchor="middle">4</text>
<text class="t" transform="translate(654.47,759.30) scale(1,1.023)" text-anchor="middle">6</text>
<text class="t" transform="translate(827.96,759.30) scale(1,1.023)" text-anchor="middle">8</text>
<text class="t" transform="translate(1001.45,759.30) scale(1,1.023)" text-anchor="middle">10</text>
<text class="t" transform="translate(111.50,165.80) scale(1,1.023)" text-anchor="end">1</text>
<text class="t" transform="translate(111.50,365.30) scale(1,1.023)" text-anchor="end">0</text>
<text class="t" transform="translate(111.50,564.80) scale(1,1.023)" text-anchor="end">−1</text>
<text class="t" transform="translate(573.30,806.30) scale(1,1.023)" text-anchor="middle">r (Å)</text>
<text class="t" transform="translate(40.9,503.0) rotate(-90) scale(1,1.023)"><tspan letter-spacing="-0.34">D(r) (atoms</tspan>Å<tspan font-size="31.3" dy="-18.3">-2</tspan><tspan dy="18.3">)</tspan></text>
<text class="a" transform="translate(648.20,563.80) scale(1,1.03)" text-anchor="start">R<tspan font-family="'Liberation Serif', 'DejaVu Serif', serif" dx="0.5">χ</tspan>=4.8%</text>
<circle cx="522.3" cy="53.4" r="6.15" fill="#fff" stroke="#000" stroke-width="2.95"/>
<text class="l" transform="translate(565.20,67.20) scale(1,1.03)" text-anchor="start">Experiment</text>
<line x1="478" y1="102" x2="566.8" y2="102" stroke="#ff0000" stroke-width="3.9"/>
<text class="l" transform="translate(577.00,115.20) scale(1,1.03)" text-anchor="start">MACE-MP-0 (800)</text>
<line x1="477.8" y1="150.45" x2="566.8" y2="150.45" stroke="#0000ff" stroke-width="3.6" stroke-dasharray="6.3 9.7"/>
<text class="l" transform="translate(577.00,163.90) scale(1,1.03)" text-anchor="start">MACE-MP-0+D3 (800)</text>
<line x1="478.0" y1="198.85" x2="566.8" y2="198.85" stroke="#008000" stroke-width="5.7" stroke-dasharray="0.65 9.61"/>
<text class="l" transform="translate(577.00,212.60) scale(1,1.03)" text-anchor="start">MACE-MP-0 (2700)</text>
</svg></body></html>
